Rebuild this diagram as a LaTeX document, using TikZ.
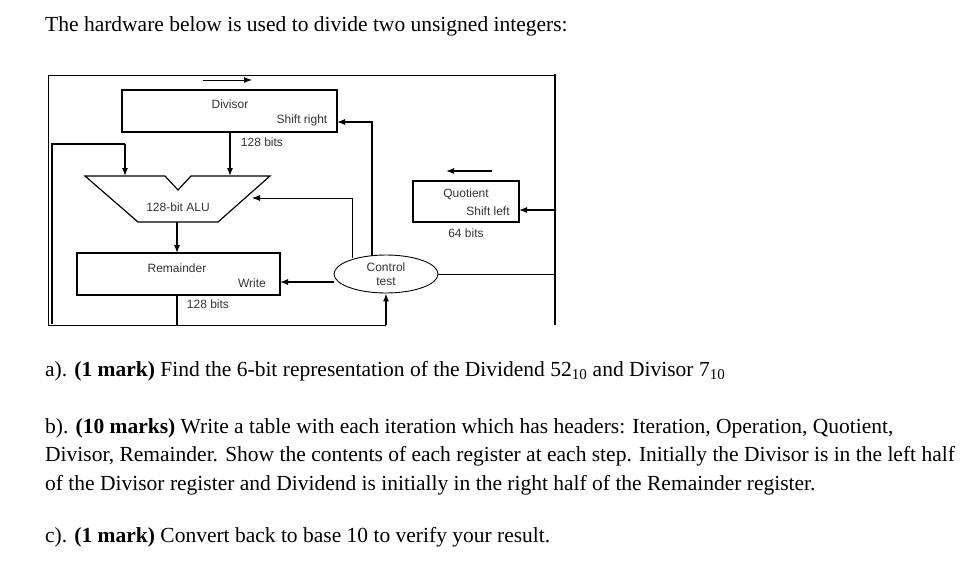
\documentclass[tikz,border=0pt]{standalone}
\usepackage{fontspec}
\setmainfont{Liberation Serif}
\newfontfamily\lbl{Liberation Sans}
\usetikzlibrary{arrows.meta,shapes.geometric}
\begin{document}
\begin{tikzpicture}[x=1pt,y=-1pt,
  wire/.style={line width=1.2pt},
  thin/.style={line width=0.9pt},
  arr/.style={-{Latex[length=8pt,width=6pt]}},
  reg/.style={draw,line width=1.4pt},
  lab/.style={font=\lbl\fontsize{12}{13}\selectfont,text=black!80,inner sep=0pt},
  para/.style={font=\fontsize{21.5}{25}\selectfont,anchor=west,inner sep=0pt}]
\useasboundingbox[fill=white] (0,0) rectangle (978,562);
% text
\node[para] (t0) at (45,26) {The hardware below is used to divide two unsigned integers:};
\node[para] (ta) at (45,371) {a). \textbf{(1 mark)} Find the 6-bit representation of the Dividend 52\textsubscript{10} and Divisor 7\textsubscript{10}};
\node[para] (tb1) at (45,428) {b). \textbf{(10 marks)} Write a table with each iteration which has headers: Iteration, Operation, Quotient,};
\node[para] (tb2) at (45,456) {Divisor, Remainder. Show the contents of each register at each step. Initially the Divisor is in the left half};
\node[para] (tb3) at (45,485) {of the Divisor register and Dividend is initially in the right half of the Remainder register.};
\node[para] (tc) at (45,537) {c). \textbf{(1 mark)} Convert back to base 10 to verify your result.};
% registers
\draw[reg] (122,90) rectangle (337,132);
\coordinate (divR) at (337,122);
\coordinate (divB) at (230,132);
\node[lab] (divt) at (230,104) {Divisor};
\node[lab] (divs) at (302,120) {Shift right};
\node[lab] (b1) at (262,142) {128 bits};
\draw[reg] (77,253) rectangle (280,295);
\coordinate (remR) at (280,282);
\coordinate (remT) at (177,253);
\coordinate (remB) at (177,295);
\node[lab] (remt) at (177,268) {Remainder};
\node[lab] (remw) at (252,283) {Write};
\node[lab] (b2) at (208,304) {128 bits};
\draw[reg] (413,181) rectangle (519,222);
\coordinate (quoR) at (519,210);
\node[lab] (quot) at (466,194) {Quotient};
\node[lab] (quos) at (488,211) {Shift left};
\node[lab] (b3) at (466,233) {64 bits};
% ALU
\draw[line width=1.2pt] (85,176) -- (165,176) -- (178,190) -- (191,176) -- (270,176) -- (218,222) -- (138,222) -- cycle;
\node[lab] (alu) at (178,207) {128-bit ALU};
\coordinate (aluT1) at (125,176);
\coordinate (aluT2) at (230,176);
\coordinate (aluR) at (252,198);
\coordinate (aluB) at (177,222);
% control
\node[draw,ellipse,thin,minimum width=104pt,minimum height=38pt,inner sep=0pt,align=center,lab] (ctl) at (386,274) {Control\\[1pt]test};
% connectors
\draw[wire,arr] (divB) -- (aluT2);
\draw[wire,arr] (aluB) -- (remT);
\draw[wire,arr] (ctl.west |- remR) -- (remR);
\draw[thin,arr] (352,258) -- (352,198) -- (aluR);
\draw[wire,arr] (372,256) -- (372,122) -- (divR);
\draw[thin] (ctl.east) -- (555,274);
\draw[wire,arr] (555,210) -- (quoR);
\draw[line width=2pt] (555,74) -- (555,325);
\draw[thin] (555,75) -- (48,75) -- (48,325) -- (386,325);
\draw[wire,arr] (386,325) -- (ctl.south);
\draw[line width=2pt] (52,324) -- (52,144) -- (125,144);
\draw[wire,arr] (125,144) -- (aluT1);
\draw[wire] (remB) -- (177,325);
\draw[thin,arr] (203,80) -- (252,80);
\draw[wire,arr] (492,171) -- (446,171);
\end{tikzpicture}
\end{document}
